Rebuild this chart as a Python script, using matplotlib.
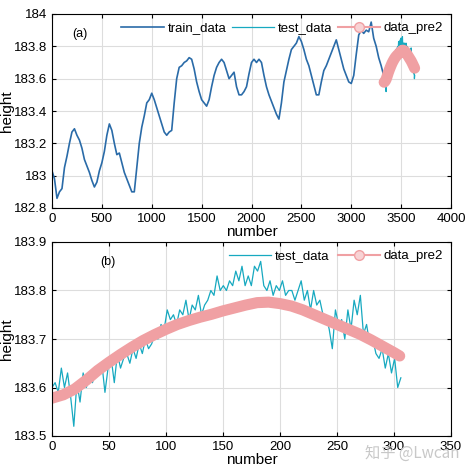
import numpy as np
import matplotlib
matplotlib.use("Agg")
import matplotlib.pyplot as plt

plt.rcParams["font.family"] = ["Liberation Sans", "Noto Sans CJK SC", "DejaVu Sans"]

TRAIN_STEP = 25
train_vals = [
    183.03, 182.98, 182.86, 182.9, 182.92, 183.05, 183.12, 183.2, 183.27, 183.29,
    183.25, 183.22, 183.17, 183.1, 183.06, 183.02, 182.97, 182.93, 182.96, 183.03,
    183.08, 183.15, 183.25, 183.32, 183.28, 183.2, 183.13, 183.14, 183.08, 183.02,
    182.98, 182.94, 182.9, 182.9, 183.05, 183.2, 183.3, 183.37, 183.45, 183.47,
    183.51, 183.47, 183.42, 183.37, 183.32, 183.27, 183.25, 183.27, 183.28, 183.45,
    183.6, 183.67, 183.68, 183.7, 183.71, 183.73, 183.72, 183.66, 183.58, 183.52,
    183.47, 183.45, 183.43, 183.47, 183.55, 183.62, 183.67, 183.7, 183.72, 183.7,
    183.65, 183.6, 183.62, 183.64, 183.55, 183.5, 183.5, 183.52, 183.55, 183.63,
    183.7, 183.72, 183.7, 183.72, 183.7, 183.62, 183.55, 183.5, 183.46, 183.42,
    183.38, 183.35, 183.45, 183.58, 183.65, 183.72, 183.78, 183.8, 183.82, 183.86,
    183.83, 183.78, 183.72, 183.68, 183.62, 183.56, 183.5, 183.5, 183.58, 183.65,
    183.68, 183.72, 183.76, 183.8, 183.84, 183.78, 183.72, 183.66, 183.62, 183.58,
    183.57, 183.62, 183.75, 183.87, 183.9, 183.88, 183.9, 183.89, 183.95, 183.85,
    183.8, 183.73, 183.68, 183.62,
]
TEST_START = 3330
TEST_LEN = 306
test_vals = [
    183.6, 183.61, 183.59, 183.64, 183.6, 183.63, 183.58, 183.52, 183.61, 183.57, 183.63,
    183.6, 183.62, 183.61, 183.64, 183.63, 183.65, 183.59, 183.64, 183.66, 183.61, 183.67,
    183.64, 183.66, 183.67, 183.65, 183.68, 183.66, 183.69, 183.67, 183.7, 183.68, 183.69,
    183.71, 183.7, 183.73, 183.72, 183.76, 183.74, 183.75, 183.73, 183.76, 183.75, 183.78,
    183.74, 183.77, 183.76, 183.79, 183.75, 183.77, 183.78, 183.8, 183.79, 183.83, 183.8,
    183.81, 183.8, 183.82, 183.81, 183.84, 183.82, 183.85, 183.81, 183.83, 183.81, 183.85,
    183.84, 183.86, 183.81, 183.8, 183.82, 183.79, 183.81, 183.8, 183.82, 183.79, 183.8,
    183.8, 183.78, 183.8, 183.82, 183.78, 183.8, 183.76, 183.8, 183.77, 183.78, 183.75,
    183.75, 183.72, 183.68, 183.76, 183.73, 183.74, 183.7, 183.76, 183.72, 183.78, 183.75,
    183.79, 183.71, 183.73, 183.69, 183.7, 183.67, 183.66, 183.68, 183.64, 183.67, 183.63,
    183.66, 183.6, 183.62,
]
pred_x = [0, 10, 20, 30, 40, 50, 60, 70, 80, 90, 100, 110, 120, 130, 140, 150,
          160, 170, 180, 190, 200, 210, 220, 230, 240, 250, 260, 270, 280, 290, 300, 305]
pred_vals = [183.578, 183.585, 183.597, 183.615, 183.635, 183.652, 183.668, 183.683,
             183.697, 183.709, 183.72, 183.73, 183.738, 183.745, 183.751, 183.758,
             183.764, 183.77, 183.775, 183.776, 183.773, 183.768, 183.76, 183.75,
             183.74, 183.73, 183.72, 183.71, 183.698, 183.685, 183.672, 183.665]

TRAIN_C = "#2a6ba8"
TEST_C = "#17a9c0"
PRED_C = "#f0a0a3"

train_x = np.arange(len(train_vals)) * TRAIN_STEP
test_x = np.linspace(0, TEST_LEN, len(test_vals))
pred_xa = np.array(pred_x)


def style(ax):
    ax.grid(True, color="#dddddd", lw=0.8)
    ax.set_axisbelow(True)
    ax.tick_params(direction="in", labelsize=9.5, top=True, right=True, length=3)
    ax.set_xlabel("number", fontsize=11, labelpad=0)
    ax.set_ylabel("height", fontsize=11)
    ax.yaxis.set_label_coords(-0.095, 0.5)


def pred_plot(ax, xs):
    ax.plot(xs, pred_vals, color=PRED_C, lw=8, solid_capstyle="round")
    ax.plot([], [], color=PRED_C, lw=1.5, marker="o", ms=7, mfc="#f8d2d4",
            mec=PRED_C, label="data_pre2")


fig = plt.figure(figsize=(4.74, 4.74), dpi=100)
ax1 = fig.add_axes([52 / 474, 1 - 208 / 474, 399 / 474, 194 / 474])
ax2 = fig.add_axes([52 / 474, 1 - 436 / 474, 399 / 474, 194 / 474])

ax1.plot(train_x, train_vals, color=TRAIN_C, lw=1.2, label="train_data")
ax1.plot(test_x + TEST_START, test_vals, color=TEST_C, lw=0.9, label="test_data")
pred_plot(ax1, pred_xa + TEST_START)
ax1.set_xlim(0, 4000)
ax1.set_ylim(182.8, 184)
ax1.set_xticks(np.arange(0, 4001, 500))
ax1.set_yticks([182.8, 183, 183.2, 183.4, 183.6, 183.8, 184])
ax1.set_yticklabels(["182.8", "183", "183.2", "183.4", "183.6", "183.8", "184"])
ax1.text(0.05, 0.88, "(a)", transform=ax1.transAxes, fontsize=9)
style(ax1)
ax1.legend(loc="upper right", ncol=3, frameon=False, fontsize=9.5, handlelength=3.2,
           columnspacing=0.4, handletextpad=0.3, borderaxespad=0.2,
           bbox_to_anchor=(1.0, 1.0))

ax2.plot(test_x, test_vals, color=TEST_C, lw=0.9, label="test_data")
pred_plot(ax2, pred_xa)
ax2.set_xlim(0, 350)
ax2.set_ylim(183.5, 183.9)
ax2.set_xticks(np.arange(0, 351, 50))
ax2.set_yticks([183.5, 183.6, 183.7, 183.8, 183.9])
ax2.text(0.12, 0.88, "(b)", transform=ax2.transAxes, fontsize=9)
style(ax2)
ax2.legend(loc="upper right", ncol=2, frameon=False, fontsize=9.5, handlelength=3.2,
           columnspacing=0.6, handletextpad=0.3, borderaxespad=0.2,
           bbox_to_anchor=(1.0, 1.0))

fig.text(0.87, 0.035, "知乎 @Lwcan", color="#c8c8c8", fontsize=11, ha="center",
         family=["Noto Sans CJK SC", "DejaVu Sans"])

fig.savefig("out.png", dpi=100)
